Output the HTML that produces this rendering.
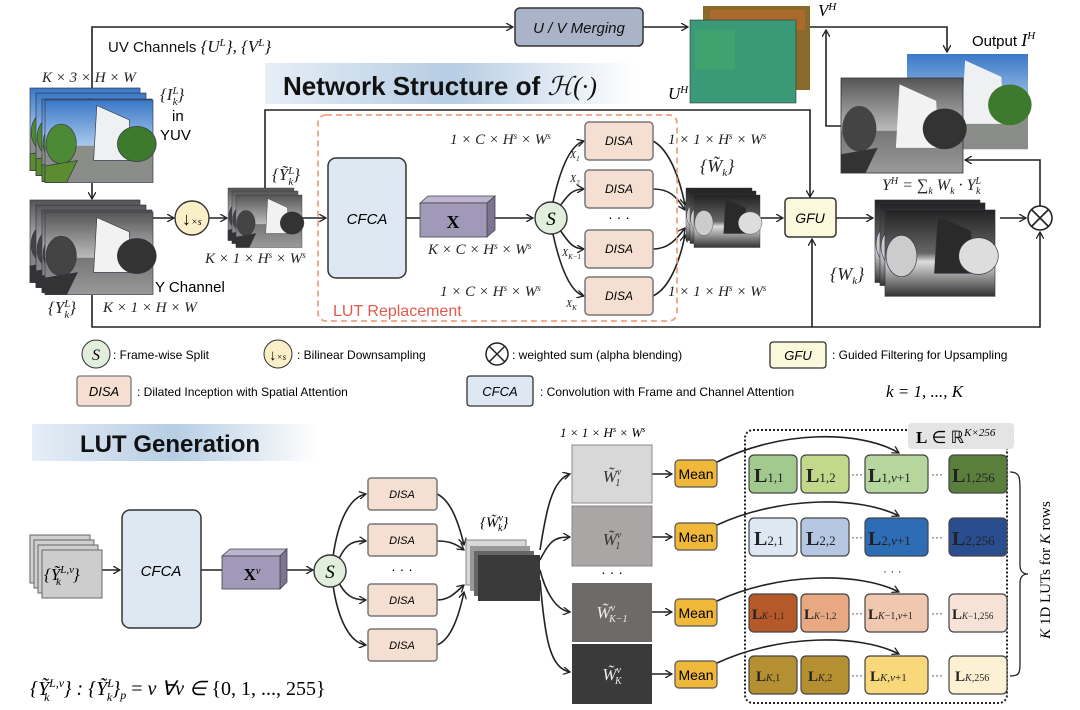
<!DOCTYPE html>
<html><head><meta charset="utf-8"><style>
body{margin:0;background:#fff;}
svg{display:block;font-family:"Liberation Sans",sans-serif;}
.m{font-family:"Liberation Serif",serif;font-style:italic;}
.sf{font-family:"Liberation Sans",sans-serif;font-style:italic;}
</style></head><body>
<svg width="1080" height="710" viewBox="0 0 1080 710" xmlns="http://www.w3.org/2000/svg">
<defs>
<marker id="a" markerWidth="8" markerHeight="8" refX="7" refY="4" orient="auto" markerUnits="userSpaceOnUse"><path d="M0,0 L7,4 L0,8" fill="none" stroke="#222" stroke-width="1.3"/></marker>
<linearGradient id="tt" x1="0" x2="1"><stop offset="0" stop-color="#e6eef6"/><stop offset="0.5" stop-color="#b6cde3"/><stop offset="1" stop-color="#fff"/></linearGradient>
<linearGradient id="sky" x1="0" y1="0" x2="0" y2="1"><stop offset="0" stop-color="#3a78c8"/><stop offset="0.55" stop-color="#a8c8ea"/><stop offset="0.56" stop-color="#8a8f86"/><stop offset="1" stop-color="#8a8c8a"/></linearGradient>
<linearGradient id="gry" x1="0" y1="0" x2="0" y2="1"><stop offset="0" stop-color="#555"/><stop offset="0.55" stop-color="#bbb"/><stop offset="0.56" stop-color="#777"/><stop offset="1" stop-color="#999"/></linearGradient>
<linearGradient id="dk" x1="0" y1="0" x2="0" y2="1"><stop offset="0" stop-color="#222"/><stop offset="0.5" stop-color="#666"/><stop offset="0.6" stop-color="#ddd"/><stop offset="1" stop-color="#333"/></linearGradient>
<g id="cph"><rect width="100" height="75" fill="url(#sky)"/><polygon points="48,5 78,18 80,55 45,55" fill="#eef0f2"/><ellipse cx="85" cy="40" rx="18" ry="16" fill="#3d7a2e"/><ellipse cx="15" cy="40" rx="14" ry="18" fill="#4d8a36"/><polygon points="0,60 30,55 20,75 0,75" fill="#5c8c30"/></g>
<g id="gph"><rect width="100" height="75" fill="url(#gry)"/><polygon points="48,5 78,18 80,55 45,55" fill="#f2f2f2"/><ellipse cx="85" cy="40" rx="18" ry="16" fill="#333"/><ellipse cx="15" cy="40" rx="14" ry="18" fill="#444"/><polygon points="0,60 30,55 20,75 0,75" fill="#333"/></g>
<g id="wph"><rect width="100" height="75" fill="url(#dk)"/><polygon points="48,5 78,18 80,55 45,55" fill="#2a2a2a"/><ellipse cx="85" cy="40" rx="18" ry="16" fill="#ddd"/><ellipse cx="15" cy="40" rx="14" ry="18" fill="#ccc"/></g>
</defs>
<g stroke="#222" stroke-width="1.6" fill="none">
<polyline points="92,88 92,27 513,27" marker-end="url(#a)"/>
<line x1="643" y1="27" x2="688" y2="27" marker-end="url(#a)"/>
<polyline points="810,27 947,27 947,52" marker-end="url(#a)"/>
<polyline points="841,126 826,126 826,30" marker-end="url(#a)"/>
<line x1="92" y1="183" x2="92" y2="199" marker-end="url(#a)"/>
<line x1="153" y1="218" x2="174" y2="218" marker-end="url(#a)"/>
<line x1="209" y1="218" x2="227" y2="218" marker-end="url(#a)"/>
<polyline points="265,188 265,110 810,110 810,197" marker-end="url(#a)"/>
<polyline points="92,295 92,327 1040,327 1040,232" marker-end="url(#a)"/>
<line x1="812" y1="327" x2="812" y2="239" marker-end="url(#a)"/>
<line x1="302" y1="218" x2="326" y2="218" marker-end="url(#a)"/>
<line x1="406" y1="218" x2="420" y2="218"/>
<line x1="487" y1="218" x2="533" y2="218" marker-end="url(#a)"/>
<line x1="758" y1="218" x2="783" y2="218" marker-end="url(#a)"/>
<line x1="836" y1="218" x2="873" y2="218" marker-end="url(#a)"/>
<line x1="1000" y1="218" x2="1026" y2="218" marker-end="url(#a)"/>
<polyline points="1040,206 1040,160 965,160" marker-end="url(#a)"/>
<path d="M553,202 C560,170 570,145 584,141" marker-end="url(#a)"/>
<path d="M560,206 C568,195 572,189 584,189" marker-end="url(#a)"/>
<path d="M560,230 C568,241 572,249 584,249" marker-end="url(#a)"/>
<path d="M553,234 C560,266 570,292 584,296" marker-end="url(#a)"/>
<path d="M653,141 C670,150 680,180 685,205" marker-end="url(#a)"/>
<path d="M653,189 C668,189 676,195 685,210"  marker-end="url(#a)"/>
<path d="M653,249 C668,249 676,240 685,228" marker-end="url(#a)"/>
<path d="M653,296 C670,288 680,260 685,235" marker-end="url(#a)"/>
</g>
<rect x="318" y="115" width="359" height="206" rx="8" fill="none" stroke="#f0a080" stroke-width="1.8" stroke-dasharray="6,4"/>
<text x="333" y="316" font-size="16" fill="#e05a4a">LUT Replacement</text>
<!-- title -->
<rect x="265" y="63" width="370" height="41" fill="url(#tt)"/>
<text x="283" y="95" font-size="26" font-weight="bold" fill="#111">Network Structure of <tspan class="m" font-weight="normal">ℋ(·)</tspan></text>
<rect x="515" y="8" width="128" height="38" rx="5" fill="#aab4c8" stroke="#333" stroke-width="1.5"/>
<text x="579" y="33" font-size="15" class="sf" text-anchor="middle" fill="#111">U / V Merging</text>
<text x="108" y="52" font-size="15" fill="#111">UV Channels <tspan class="m" font-size="17">{U</tspan><tspan class="m" font-size="11" dy="-6">L</tspan><tspan class="m" font-size="17" dy="6">}, {V</tspan><tspan class="m" font-size="11" dy="-6">L</tspan><tspan class="m" font-size="17" dy="6">}</tspan></text>
<!-- UV maps -->
<rect x="703" y="6" width="107" height="84" fill="#8a6a2a"/><rect x="710" y="10" width="95" height="20" fill="#c06a30" opacity=".6"/>
<rect x="690" y="20" width="106" height="83" fill="#3a9a78" stroke="#333" stroke-width=".6"/><rect x="695" y="30" width="40" height="40" fill="#45a868" opacity=".6"/>
<text x="818" y="16" font-size="17" class="m">V<tspan font-size="11" dy="-6">H</tspan></text>
<text x="668" y="99" font-size="17" class="m">U<tspan font-size="11" dy="-6">H</tspan></text>
<text x="972" y="46" font-size="15">Output <tspan class="m" font-size="18">I</tspan><tspan class="m" font-size="11" dy="-7">H</tspan></text>
<use href="#cph" transform="translate(907,54) scale(1.21,1.27)"/>
<use href="#gph" transform="translate(841,78) scale(1.22,1.27)"/>
<rect x="841" y="78" width="122" height="95" fill="none" stroke="#333" stroke-width=".8"/>
<!-- input stacks -->
<g stroke="#334" stroke-width=".6">
<use href="#cph" transform="translate(30,88) scale(1.1,1.1)"/><use href="#cph" transform="translate(36,93) scale(1.1,1.1)"/><use href="#cph" transform="translate(42,99) scale(1.1,1.1)"/>
<use href="#cph" transform="translate(45,100) scale(1.08,1.1)"/>
<use href="#gph" transform="translate(30,200) scale(1.1,1.1)"/><use href="#gph" transform="translate(36,205) scale(1.1,1.1)"/><use href="#gph" transform="translate(42,210) scale(1.1,1.1)"/>
<use href="#gph" transform="translate(45,212) scale(1.08,1.1)"/>
<use href="#gph" transform="translate(228,188) scale(.66,.7)"/><use href="#gph" transform="translate(232,191) scale(.66,.7)"/><use href="#gph" transform="translate(236,195) scale(.66,.7)"/>
<use href="#wph" transform="translate(686,188) scale(.66,.7)"/><use href="#wph" transform="translate(690,191) scale(.66,.7)"/><use href="#wph" transform="translate(694,195) scale(.66,.7)"/>
<use href="#wph" transform="translate(875,200) scale(1.05,1.1)"/><use href="#wph" transform="translate(880,203) scale(1.05,1.1)"/><use href="#wph" transform="translate(885,210) scale(1.1,1.15)"/>
</g>
<g font-size="15" class="m" fill="#222">
<text x="42" y="82">K × 3 × H × W</text>
<text x="160" y="100" font-size="17">{I<tspan font-size="11" dy="-6">L</tspan><tspan font-size="11" dx="-6" dy="11">k</tspan><tspan dy="-5">}</tspan></text>
<text x="272" y="180" font-size="17">{Ỹ<tspan font-size="11" dy="-6">L</tspan><tspan font-size="11" dx="-6" dy="11">k</tspan><tspan dy="-5">}</tspan></text>
<text x="205" y="263">K × 1 × H<tspan font-size="9" dy="-5">s</tspan><tspan dy="5"> × W</tspan><tspan font-size="9" dy="-5">s</tspan></text>
<text x="48" y="313" font-size="17">{Y<tspan font-size="11" dy="-6">L</tspan><tspan font-size="11" dx="-6" dy="11">k</tspan><tspan dy="-5">}</tspan></text>
<text x="103" y="312">K × 1 × H × W</text>
<text x="428" y="254">K × C × H<tspan font-size="9" dy="-5">s</tspan><tspan dy="5"> × W</tspan><tspan font-size="9" dy="-5">s</tspan></text>
<text x="450" y="144">1 × C × H<tspan font-size="9" dy="-5">s</tspan><tspan dy="5"> × W</tspan><tspan font-size="9" dy="-5">s</tspan></text>
<text x="440" y="296">1 × C × H<tspan font-size="9" dy="-5">s</tspan><tspan dy="5"> × W</tspan><tspan font-size="9" dy="-5">s</tspan></text>
<text x="668" y="144">1 × 1 × H<tspan font-size="9" dy="-5">s</tspan><tspan dy="5"> × W</tspan><tspan font-size="9" dy="-5">s</tspan></text>
<text x="668" y="296">1 × 1 × H<tspan font-size="9" dy="-5">s</tspan><tspan dy="5"> × W</tspan><tspan font-size="9" dy="-5">s</tspan></text>
<text x="700" y="172" font-size="18">{W̃<tspan font-size="11" dy="4">k</tspan><tspan dy="-4">}</tspan></text>
<text x="830" y="280" font-size="18">{W<tspan font-size="11" dy="4">k</tspan><tspan dy="-4">}</tspan></text>
<text x="882" y="190" font-size="16">Y<tspan font-size="10" dy="-6">H</tspan><tspan dy="6"> = ∑</tspan><tspan font-size="10" dy="4">k</tspan><tspan dy="-4"> W</tspan><tspan font-size="10" dy="4">k</tspan><tspan dy="-4"> · Y</tspan><tspan font-size="10" dy="-6">L</tspan><tspan font-size="10" dx="-5" dy="10">k</tspan></text>
<g font-size="10"><text x="570" y="158">X<tspan font-size="7" dy="3">1</tspan></text><text x="570" y="182">X<tspan font-size="7" dy="3">2</tspan></text><text x="562" y="256">X<tspan font-size="7" dy="3">K−1</tspan></text><text x="566" y="307">X<tspan font-size="7" dy="3">K</tspan></text></g>
</g>
<text x="172" y="121" font-size="15">in</text><text x="160" y="140" font-size="15">YUV</text>
<text x="155" y="292" font-size="15">Y Channel</text>
<!-- nodes -->
<circle cx="192" cy="218" r="17" fill="#fbefc8" stroke="#333" stroke-width="1.4"/>
<text x="182" y="225" font-size="18" class="m">↓<tspan font-size="10">×s</tspan></text>
<rect x="328" y="158" width="78" height="120" rx="8" fill="#dde8f2" stroke="#333" stroke-width="1.5"/>
<text x="367" y="224" font-size="15" class="sf" text-anchor="middle">CFCA</text>
<polygon points="420,203 428,196 495,196 487,203" fill="#bcb4d0" stroke="#444" stroke-width=".8"/>
<polygon points="487,203 495,196 495,230 487,237" fill="#7c7494" stroke="#444" stroke-width=".8"/>
<rect x="420" y="203" width="67" height="34" fill="#a09ab8" stroke="#444" stroke-width=".8"/>
<text x="453" y="228" font-size="18" font-weight="bold" font-family="Liberation Serif" text-anchor="middle">X</text>
<circle cx="551" cy="218" r="16" fill="#e2eedc" stroke="#333" stroke-width="1.4"/>
<text x="551" y="225" font-size="19" class="m" text-anchor="middle">S</text>
<g fill="#f4dfd2" stroke="#777" stroke-width="1.5">
<rect x="585" y="122" width="68" height="38" rx="4"/><rect x="585" y="170" width="68" height="38" rx="4"/><rect x="585" y="230" width="68" height="38" rx="4"/><rect x="585" y="277" width="68" height="38" rx="4"/></g>
<g font-size="12" class="sf" text-anchor="middle"><text x="619" y="145">DISA</text><text x="619" y="193">DISA</text><text x="619" y="253">DISA</text><text x="619" y="300">DISA</text></g>
<text x="619" y="222" font-size="14" text-anchor="middle">· · ·</text>
<rect x="785" y="198" width="51" height="39" rx="4" fill="#fbf8dc" stroke="#333" stroke-width="1.5"/>
<text x="810" y="223" font-size="14" class="sf" text-anchor="middle">GFU</text>
<circle cx="1040" cy="218" r="12" fill="#fff" stroke="#222" stroke-width="1.6"/>
<path d="M1032,210 L1048,226 M1048,210 L1032,226" stroke="#222" stroke-width="1.6"/>
<!-- legend -->
<circle cx="96" cy="354" r="14" fill="#e2eedc" stroke="#333"/><text x="96" y="360" font-size="16" class="m" text-anchor="middle">S</text>
<text x="113" y="359" font-size="12">: Frame-wise Split</text>
<circle cx="278" cy="354" r="14" fill="#fbefc8" stroke="#333"/><text x="269" y="360" font-size="15" class="m">↓<tspan font-size="9">×s</tspan></text>
<text x="297" y="359" font-size="12">: Bilinear Downsampling</text>
<circle cx="497" cy="354" r="11" fill="#fff" stroke="#222" stroke-width="1.5"/><path d="M489,346 L505,362 M505,346 L489,362" stroke="#222" stroke-width="1.5"/>
<text x="512" y="359" font-size="12">: weighted sum (alpha blending)</text>
<rect x="770" y="342" width="56" height="26" rx="3" fill="#fbf8dc" stroke="#333" stroke-width="1.3"/><text x="798" y="360" font-size="13" class="sf" text-anchor="middle">GFU</text>
<text x="832" y="359" font-size="12">: Guided Filtering for Upsampling</text>
<rect x="77" y="376" width="54" height="30" rx="3" fill="#f4dfd2" stroke="#777" stroke-width="1.3"/><text x="104" y="396" font-size="13" class="sf" text-anchor="middle">DISA</text>
<text x="137" y="396" font-size="12">: Dilated Inception with Spatial Attention</text>
<rect x="467" y="376" width="66" height="30" rx="3" fill="#dde8f2" stroke="#333" stroke-width="1.3"/><text x="500" y="396" font-size="13" class="sf" text-anchor="middle">CFCA</text>
<text x="540" y="396" font-size="12">: Convolution with Frame and Channel Attention</text>
<text x="886" y="397" font-size="17" class="m">k = 1, ..., K</text>
<!-- LUT generation -->
<rect x="32" y="424" width="285" height="37" fill="url(#tt)"/>
<text x="80" y="452" font-size="24" font-weight="bold" fill="#111">LUT Generation</text>
<g stroke="#222" stroke-width="1.6" fill="none">
<line x1="101" y1="570" x2="120" y2="570" marker-end="url(#a)"/>
<line x1="201" y1="570" x2="222" y2="570"/>
<line x1="280" y1="570" x2="313" y2="570" marker-end="url(#a)"/>
<path d="M333,557 C338,520 350,497 366,494" marker-end="url(#a)"/>
<path d="M338,561 C345,545 352,540 366,541" marker-end="url(#a)"/>
<path d="M338,581 C345,595 352,600 366,600" marker-end="url(#a)"/>
<path d="M333,585 C338,620 350,643 366,645" marker-end="url(#a)"/>
<path d="M437,494 C450,500 458,520 464,545" marker-end="url(#a)"/>
<path d="M437,541 C450,541 456,544 464,550" marker-end="url(#a)"/>
<path d="M437,600 C450,600 456,592 464,585" marker-end="url(#a)"/>
<path d="M437,645 C450,640 458,620 464,592" marker-end="url(#a)"/>
<path d="M540,550 C545,520 550,480 570,474" marker-end="url(#a)"/>
<path d="M540,560 C550,540 555,537 570,537" marker-end="url(#a)"/>
<path d="M540,570 C545,590 555,610 570,612" marker-end="url(#a)"/>
<path d="M540,580 C545,640 550,668 570,672" marker-end="url(#a)"/>
<line x1="652" y1="474" x2="672" y2="474" marker-end="url(#a)"/>
<line x1="652" y1="537" x2="672" y2="537" marker-end="url(#a)"/>
<line x1="652" y1="612" x2="672" y2="612" marker-end="url(#a)"/>
<line x1="652" y1="674" x2="672" y2="674" marker-end="url(#a)"/>
<path d="M717,462 C780,430 860,430 899,453" marker-end="url(#a)"/>
<path d="M717,525 C780,496 860,496 899,516" marker-end="url(#a)"/>
<path d="M717,601 C780,572 860,572 899,592" marker-end="url(#a)"/>
<path d="M717,663 C780,634 860,634 899,654" marker-end="url(#a)"/>
<path d="M1010,472 C1020,472 1020,478 1020,490 L1020,565 C1020,572 1024,574 1028,574 C1024,574 1020,576 1020,583 L1020,665 C1020,674 1018,676 1010,676" stroke-width="1.3"/>
</g>
<g stroke="#666" stroke-width="1"><rect x="30" y="535" width="60" height="48" fill="#cfcfcf"/><rect x="34" y="540" width="60" height="48" fill="#cfcfcf"/><rect x="38" y="545" width="60" height="48" fill="#cfcfcf"/><rect x="42" y="550" width="60" height="48" fill="#cdcdcd"/></g>
<text x="44" y="580" font-size="17" class="m">{Ỹ<tspan font-size="11" dy="-7">L,v</tspan><tspan font-size="11" dx="-18" dy="12">k</tspan><tspan dx="12" dy="-5">}</tspan></text>
<rect x="122" y="510" width="79" height="118" rx="8" fill="#dde8f2" stroke="#333" stroke-width="1.5"/>
<text x="161" y="576" font-size="15" class="sf" text-anchor="middle">CFCA</text>
<polygon points="222,556 230,549 287,549 280,556" fill="#bcb4d0" stroke="#444" stroke-width=".8"/>
<polygon points="280,556 287,549 287,582 280,589" fill="#7c7494" stroke="#444" stroke-width=".8"/>
<rect x="222" y="556" width="58" height="33" fill="#a09ab8" stroke="#444" stroke-width=".8"/>
<text x="252" y="580" font-size="17" font-weight="bold" font-family="Liberation Serif" text-anchor="middle">X<tspan font-size="10" font-style="italic" font-weight="normal" dy="-6">v</tspan></text>
<circle cx="330" cy="571" r="16" fill="#e2eedc" stroke="#333" stroke-width="1.4"/>
<text x="330" y="578" font-size="19" class="m" text-anchor="middle">S</text>
<g fill="#f4dfd2" stroke="#777" stroke-width="1.5"><rect x="368" y="478" width="69" height="32" rx="3"/><rect x="368" y="524" width="69" height="32" rx="3"/><rect x="368" y="584" width="69" height="32" rx="3"/><rect x="368" y="629" width="69" height="32" rx="3"/></g>
<g font-size="11" class="sf" text-anchor="middle"><text x="402" y="498">DISA</text><text x="402" y="544">DISA</text><text x="402" y="604">DISA</text><text x="402" y="649">DISA</text></g>
<text x="402" y="574" font-size="14" text-anchor="middle">· · ·</text>
<text x="480" y="527" font-size="15" class="m">{W̃<tspan font-size="10" dy="-6">v</tspan><tspan font-size="10" dx="-5" dy="10">k</tspan><tspan dy="-4">}</tspan></text>
<rect x="466" y="540" width="60" height="45" fill="#d8d8d8" stroke="#888"/><rect x="470" y="546" width="60" height="45" fill="#999"/><rect x="474" y="551" width="60" height="45" fill="#666"/><rect x="478" y="555" width="62" height="46" fill="#3a3a3a"/>
<text x="560" y="437" font-size="13" class="m">1 × 1 × H<tspan font-size="8" dy="-5">s</tspan><tspan dy="5"> × W</tspan><tspan font-size="8" dy="-5">s</tspan></text>
<rect x="572" y="445" width="80" height="58" fill="#d8d8d8" stroke="#888"/>
<rect x="572" y="506" width="80" height="60" fill="#aaa6a5" stroke="#888"/>
<rect x="572" y="583" width="80" height="59" fill="#6e6a68"/>
<rect x="572" y="644" width="80" height="60" fill="#3a3a3a"/>
<text x="612" y="482" font-size="17" class="m" text-anchor="middle" fill="#333">W̃<tspan font-size="10" dy="-7">v</tspan><tspan font-size="10" dx="-6" dy="11">1</tspan></text>
<text x="612" y="545" font-size="17" class="m" text-anchor="middle" fill="#333">W̃<tspan font-size="10" dy="-7">v</tspan><tspan font-size="10" dx="-6" dy="11">1</tspan></text>
<text x="612" y="618" font-size="17" class="m" text-anchor="middle" fill="#eee">W̃<tspan font-size="10" dy="-7">v</tspan><tspan font-size="10" dx="-6" dy="11">K−1</tspan></text>
<text x="612" y="680" font-size="17" class="m" text-anchor="middle" fill="#eee">W̃<tspan font-size="10" dy="-7">v</tspan><tspan font-size="10" dx="-6" dy="11">K</tspan></text>
<text x="612" y="577" font-size="14" text-anchor="middle">· · ·</text>
<g fill="#f0b838" stroke="#555" stroke-width="1.2"><rect x="675" y="460" width="42" height="27" rx="4"/><rect x="675" y="523" width="42" height="27" rx="4"/><rect x="675" y="599" width="42" height="27" rx="4"/><rect x="675" y="661" width="42" height="27" rx="4"/></g>
<g font-size="14" text-anchor="middle"><text x="696" y="479">Mean</text><text x="696" y="542">Mean</text><text x="696" y="618">Mean</text><text x="696" y="680">Mean</text></g>
<rect x="745" y="430" width="262" height="273" rx="8" fill="none" stroke="#222" stroke-width="2" stroke-dasharray="2,2"/>
<rect x="908" y="423" width="106" height="26" rx="4" fill="#e4e4e4"/>
<text x="916" y="443" font-size="17" font-family="Liberation Serif"><tspan font-weight="bold">L</tspan> ∈ ℝ<tspan font-size="11" font-style="italic" dy="-7">K×256</tspan></text>
<g stroke="#444" stroke-width="1.2">
<rect x="749" y="455" width="48" height="38" rx="5" fill="#a2c98e"/><rect x="801" y="455" width="48" height="38" rx="5" fill="#c2d88a"/><rect x="865" y="455" width="63" height="38" rx="5" fill="#b5d69c"/><rect x="949" y="455" width="58" height="38" rx="5" fill="#5a7f3c"/>
<rect x="749" y="518" width="48" height="38" rx="5" fill="#dde8f3"/><rect x="801" y="518" width="48" height="38" rx="5" fill="#b5c7e3"/><rect x="865" y="518" width="63" height="38" rx="5" fill="#2d6db5"/><rect x="949" y="518" width="58" height="38" rx="5" fill="#2a4d90"/>
<rect x="749" y="594" width="48" height="38" rx="5" fill="#b5582a"/><rect x="801" y="594" width="48" height="38" rx="5" fill="#e8a882"/><rect x="865" y="594" width="63" height="38" rx="5" fill="#f0c8b0"/><rect x="949" y="594" width="58" height="38" rx="5" fill="#f6e2d6"/>
<rect x="749" y="656" width="48" height="38" rx="5" fill="#b59033"/><rect x="801" y="656" width="48" height="38" rx="5" fill="#b59033"/><rect x="865" y="656" width="63" height="38" rx="5" fill="#f8d87a"/><rect x="949" y="656" width="58" height="38" rx="5" fill="#fdf1d3"/>
</g>
<g font-family="Liberation Serif" fill="#222">
<g font-size="20"><text x="754" y="482"><tspan font-weight="bold">L</tspan><tspan font-size="13">1,1</tspan></text><text x="806" y="482"><tspan font-weight="bold">L</tspan><tspan font-size="13">1,2</tspan></text><text x="868" y="482"><tspan font-weight="bold">L</tspan><tspan font-size="13">1,<tspan font-style="italic">v</tspan>+1</tspan></text><text x="952" y="482"><tspan font-weight="bold">L</tspan><tspan font-size="13">1,256</tspan></text>
<text x="754" y="545"><tspan font-weight="bold">L</tspan><tspan font-size="13">2,1</tspan></text><text x="806" y="545"><tspan font-weight="bold">L</tspan><tspan font-size="13">2,2</tspan></text><text x="868" y="545"><tspan font-weight="bold">L</tspan><tspan font-size="13">2,<tspan font-style="italic">v</tspan>+1</tspan></text><text x="952" y="545"><tspan font-weight="bold">L</tspan><tspan font-size="13">2,256</tspan></text></g>
<g font-size="15"><text x="752" y="619"><tspan font-weight="bold">L</tspan><tspan font-size="9"><tspan font-style="italic">K</tspan>−1,1</tspan></text><text x="804" y="619"><tspan font-weight="bold">L</tspan><tspan font-size="9"><tspan font-style="italic">K</tspan>−1,2</tspan></text><text x="868" y="619"><tspan font-weight="bold">L</tspan><tspan font-size="10"><tspan font-style="italic">K</tspan>−1,<tspan font-style="italic">v</tspan>+1</tspan></text><text x="952" y="619"><tspan font-weight="bold">L</tspan><tspan font-size="9"><tspan font-style="italic">K</tspan>−1,256</tspan></text>
<text x="756" y="681"><tspan font-weight="bold">L</tspan><tspan font-size="10"><tspan font-style="italic">K</tspan>,1</tspan></text><text x="808" y="681"><tspan font-weight="bold">L</tspan><tspan font-size="10"><tspan font-style="italic">K</tspan>,2</tspan></text><text x="870" y="681"><tspan font-weight="bold">L</tspan><tspan font-size="11"><tspan font-style="italic">K</tspan>,<tspan font-style="italic">v</tspan>+1</tspan></text><text x="955" y="681"><tspan font-weight="bold">L</tspan><tspan font-size="10"><tspan font-style="italic">K</tspan>,256</tspan></text></g>
</g>
<g font-size="12" fill="#333"><text x="851" y="478">···</text><text x="931" y="478">···</text><text x="851" y="541">···</text><text x="931" y="541">···</text><text x="851" y="617">···</text><text x="931" y="617">···</text><text x="851" y="679">···</text><text x="931" y="679">···</text><text x="883" y="575">· · ·</text></g>
<text transform="translate(1050,570) rotate(-90)" font-size="15" font-family="Liberation Serif" text-anchor="middle"><tspan font-style="italic">K</tspan> 1D LUTs for <tspan font-style="italic">K</tspan> rows</text>
<text x="30" y="695" font-size="20" class="m">{Ỹ<tspan font-size="12" dy="-8">L,v</tspan><tspan font-size="12" dx="-20" dy="14">k</tspan><tspan dx="14" dy="-6">} : {Ỹ</tspan><tspan font-size="12" dy="-8">L</tspan><tspan font-size="12" dx="-7" dy="14">k</tspan><tspan dy="-6">}</tspan><tspan font-size="12" dy="4">p</tspan><tspan dy="-4" font-style="normal"> = </tspan>v  ∀v ∈ <tspan font-style="normal">{0, 1, ..., 255}</tspan></text>
</svg>
</body></html>
